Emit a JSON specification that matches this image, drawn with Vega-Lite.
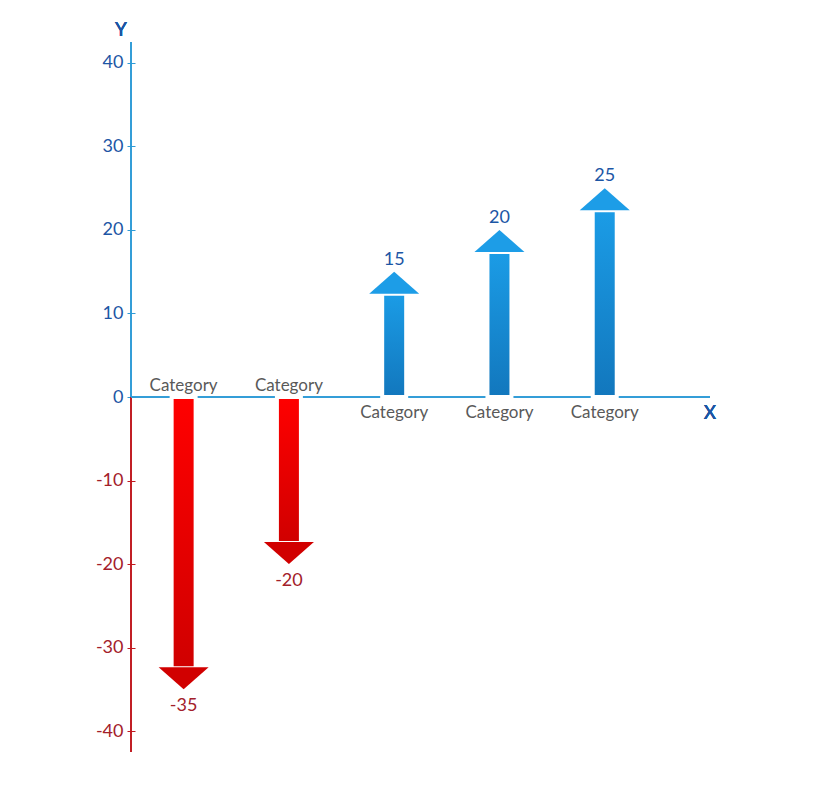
{
  "$schema": "https://vega.github.io/schema/vega-lite/v6.json",
  "width": 579,
  "height": 710,
  "autosize": "none",
  "padding": {"left": 131, "top": 42, "right": 110, "bottom": 35},
  "background": "white",
  "config": {
    "view": {"stroke": null},
    "font": "Lato",
    "text": {"font": "Lato"}
  },
  "data": {
    "values": [
      {"cat": "Category", "idx": 1, "value": -35},
      {"cat": "Category", "idx": 2, "value": -20},
      {"cat": "Category", "idx": 3, "value": 15},
      {"cat": "Category", "idx": 4, "value": 20},
      {"cat": "Category", "idx": 5, "value": 25}
    ]
  },
  "encoding": {
    "x": {"field": "idx", "type": "quantitative", "scale": {"domain": [0.5, 6], "nice": false, "zero": false, "padding": 0}, "axis": null},
    "y": {
      "field": "value",
      "type": "quantitative",
      "scale": {"domain": [-42.5, 42.5], "nice": false, "zero": false, "padding": 0},
      "axis": {
        "values": [-40, -30, -20, -10, 0, 10, 20, 30, 40],
        "labelExpr": "'' + datum.value",
        "title": null,
        "domain": false,
        "grid": false,
        "offset": -4,
        "tickSize": 8,
        "tickWidth": 1,
        "labelPadding": 4,
        "labelFont": "Lato",
        "labelFontSize": 18,
        "labelColor": {"condition": {"test": "datum.value < 0", "value": "#a3202a"}, "value": "#1c56a5"},
        "tickColor": {"condition": {"test": "datum.value < 0", "value": "#c0181f"}, "value": "#2f9ad6"}
      }
    }
  },
  "layer": [
    {
      "mark": {"type": "rule", "color": "#2f9ad6", "strokeWidth": 1},
      "encoding": {"x": {"datum": 0.5}, "y": {"datum": 0}, "y2": {"datum": 42.5}}
    },
    {
      "mark": {"type": "rule", "color": "#c0181f", "strokeWidth": 1},
      "encoding": {"x": {"datum": 0.5}, "y": {"datum": -42.5}, "y2": {"datum": 0}}
    },
    {
      "mark": {"type": "rule", "color": "#2f9ad6", "strokeWidth": 1},
      "encoding": {"x": {"datum": 0.5}, "x2": {"datum": 6}, "y": {"datum": 0}}
    },
    {
      "transform": [{"filter": "datum.value > 0"}],
      "mark": {
        "type": "bar",
        "size": 24,
        "yOffset": 22,
        "stroke": "white",
        "strokeWidth": 4,
        "color": {"gradient": "linear", "x1": 0, "y1": 0, "x2": 0, "y2": 1,
          "stops": [{"offset": 0, "color": "#1b9ce6"}, {"offset": 1, "color": "#1277bd"}]}
      },
      "encoding": {"y2": {"datum": 0}}
    },
    {
      "transform": [{"filter": "datum.value < 0"}],
      "mark": {
        "type": "bar",
        "size": 24,
        "yOffset": -21,
        "stroke": "white",
        "strokeWidth": 4,
        "color": {"gradient": "linear", "x1": 0, "y1": 0, "x2": 0, "y2": 1,
          "stops": [{"offset": 0, "color": "#ff0000"}, {"offset": 1, "color": "#d00000"}]}
      },
      "encoding": {"y2": {"datum": 0}}
    },
    {
      "transform": [{"filter": "datum.value > 0"}],
      "mark": {"type": "point", "filled": true, "opacity": 1, "shape": "M0,0L1,0.88L-1,0.88Z", "size": 2500, "color": "#1d9de7", "strokeWidth": 0}
    },
    {
      "transform": [{"filter": "datum.value < 0"}],
      "mark": {"type": "point", "filled": true, "opacity": 1, "shape": "M0,0L1,-0.88L-1,-0.88Z", "size": 2500, "color": "#d10000", "strokeWidth": 0}
    },
    {
      "transform": [{"filter": "datum.value > 0"}],
      "mark": {"type": "text", "fontSize": 17, "color": "#595959", "baseline": "middle", "dy": 16},
      "encoding": {"y": {"datum": 0}, "text": {"field": "cat"}}
    },
    {
      "transform": [{"filter": "datum.value < 0"}],
      "mark": {"type": "text", "fontSize": 17, "color": "#595959", "baseline": "middle", "dy": -11},
      "encoding": {"y": {"datum": 0}, "text": {"field": "cat"}}
    },
    {
      "transform": [{"filter": "datum.value > 0"}],
      "mark": {"type": "text", "fontSize": 18, "color": "#1c56a5", "baseline": "bottom", "dy": -3},
      "encoding": {"text": {"field": "value"}}
    },
    {
      "transform": [{"filter": "datum.value < 0"}],
      "mark": {"type": "text", "fontSize": 18, "color": "#a3202a", "baseline": "top", "dy": 8},
      "encoding": {"text": {"field": "value"}}
    },
    {
      "mark": {"type": "text", "fontSize": 19, "fontWeight": "normal", "color": "#1c56a5", "baseline": "middle", "dx": -10, "dy": -12, "text": "Y"},
      "encoding": {"x": {"datum": 0.5}, "y": {"datum": 42.5}}
    },
    {
      "mark": {"type": "text", "fontSize": 19, "fontWeight": "normal", "color": "#1c56a5", "baseline": "middle", "dy": 16, "text": "X"},
      "encoding": {"x": {"datum": 6}, "y": {"datum": 0}}
    }
  ]
}
